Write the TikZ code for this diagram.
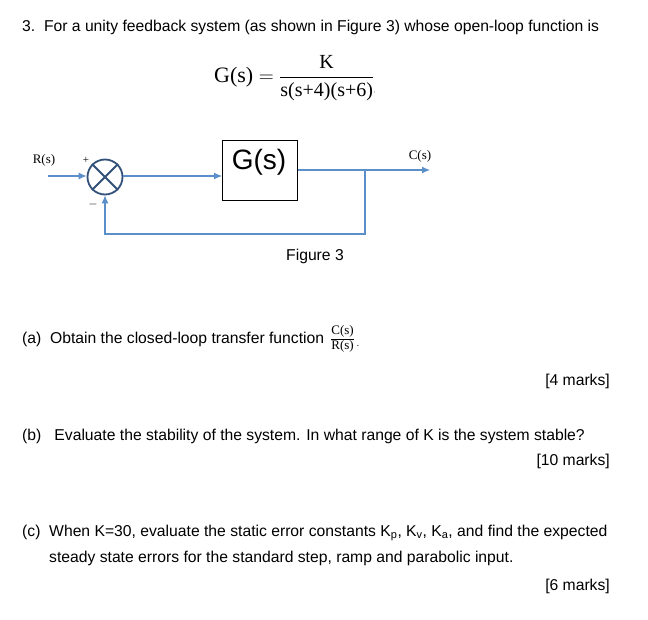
\documentclass[tikz,border=0pt]{standalone}
\usepackage{fontspec}
\setmainfont{Liberation Sans}
\newfontfamily\serf{Liberation Serif}
\usetikzlibrary{arrows.meta}
\definecolor{lb}{RGB}{91,143,201}
\definecolor{cb}{RGB}{50,80,120}
\begin{document}
\begin{tikzpicture}[x=1pt,y=-1pt,
  txt/.style={anchor=west,inner sep=0,font=\fontsize{15.7}{18}\selectfont},
  mk/.style={anchor=east,inner sep=0,font=\fontsize{15.7}{18}\selectfont},
  sig/.style={draw=lb,line width=1.1pt},
  arr/.style={sig,-{Latex[length=8pt,width=7pt]}},
  sl/.style={inner sep=0,font=\serf\fontsize{13}{15}\selectfont}]
\useasboundingbox (0,0) rectangle (648,620);
\node[txt] (t3) at (22,27) {3.\ \ For a unity feedback system (as shown in Figure 3) whose open-loop function is};
\node[inner sep=0,font=\serf\fontsize{22}{24}\selectfont,anchor=west] (eq) at (214,78) {G(s) $=$ $\displaystyle\frac{\hbox{\serf\fontsize{20}{22}\selectfont K}}{\hbox{\serf\fontsize{20}{22}\selectfont s(s+4)(s+6)}}$\raisebox{-1ex}{\tiny,}};
% diagram
\node[sl] (R) at (44,160) {R(s)};
\node[sl] (C) at (420,156) {C(s)};
\coordinate (in) at (48,176);
\node[circle,draw=cb,line width=1.8pt,minimum size=35pt,inner sep=0] (sum) at (105,177) {};
\draw[cb,line width=1.8pt] (sum.45) -- (sum.225) (sum.135) -- (sum.315);
\node[sl,font=\serf\fontsize{11}{12}\selectfont] (p) at (86,160) {+};
\node[sl] (m) at (93,205) {$-$};
\node[draw,line width=0.8pt,minimum width=75pt,minimum height=60pt,inner sep=0,anchor=north west] (G) at (222,140) {};
\node[inner sep=0,font=\fontsize{28}{30}\selectfont] (Gt) at (259,162) {G(s)};
\coordinate (out) at (430,170);
\coordinate (br) at (365,170);
\coordinate (fb) at (365,234);
\draw[arr] (in) -- (sum.west |- in) ;
\draw[arr] (sum.east |- 0,176) -- (G.west |- 0,176);
\draw[arr] (G.east |- out) -- (out);
\draw[arr] (br) -- (fb) -- (sum.south |- fb) -- (sum.south);
\node[txt,anchor=center] (fig) at (315,256) {Figure 3};
% questions
\node[txt] (qa) at (22,339) {(a)\ \ Obtain the closed-loop transfer function};
\node[inner sep=0,anchor=west] (fr) at (330,339) {$\displaystyle\frac{\hbox{\serf\fontsize{13}{14}\selectfont C(s)}}{\hbox{\serf\fontsize{13}{14}\selectfont R(s)}}$\,\raisebox{-1ex}{.}};
\node[mk] (m4) at (610,381) {[4 marks]};
\node[txt] (qb) at (22,436) {(b)\ \ \ Evaluate the stability of the system. In what range of K is the system stable?};
\node[mk] (m10) at (610,461) {[10 marks]};
\node[txt] (qc) at (22,533) {(c)\ \ When K=30, evaluate the static error constants K\textsubscript{p}, K\textsubscript{v}, K\textsubscript{a}, and find the expected};
\node[txt] (qc2) at (49,558) {steady state errors for the standard step, ramp and parabolic input.};
\node[mk] (m6) at (610,586) {[6 marks]};
\end{tikzpicture}
\end{document}
